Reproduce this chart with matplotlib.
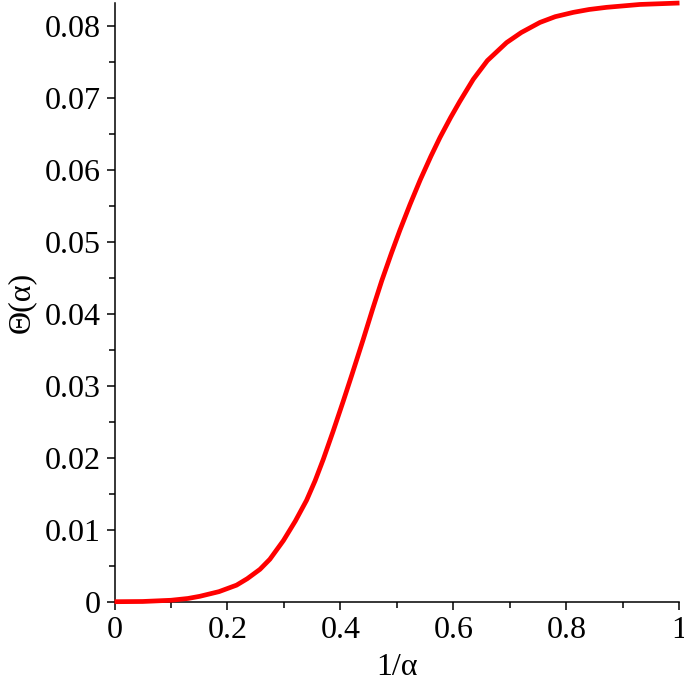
import matplotlib
matplotlib.use("Agg")
import matplotlib.pyplot as plt
from matplotlib.ticker import MultipleLocator

plt.rcParams['font.family'] = ['Liberation Serif', 'DejaVu Serif']

# values
inv_alpha = [0, 0.05, 0.1, 0.13, 0.151, 0.185, 0.216, 0.235, 0.2575, 0.275,
             0.299, 0.32, 0.340, 0.355, 0.3696, 0.387, 0.405, 0.42, 0.440,
             0.457, 0.473, 0.49, 0.505, 0.523, 0.541, 0.56, 0.576, 0.595,
             0.611, 0.635, 0.66, 0.694, 0.72, 0.753, 0.78, 0.812, 0.84,
             0.871, 0.930, 1.0]
theta = [0, 0.00003, 0.0002, 0.00045, 0.00075, 0.0014, 0.0023, 0.0032, 0.0045,
         0.0059, 0.0085, 0.0112, 0.0141, 0.0168, 0.0198, 0.0237, 0.0279,
         0.0315, 0.0364, 0.0407, 0.0446, 0.0484, 0.0516, 0.0552, 0.0586,
         0.0619, 0.0645, 0.0673, 0.0695, 0.0726, 0.0752, 0.0777, 0.0791,
         0.0805, 0.0813, 0.0819, 0.0823, 0.0826, 0.0830, 0.0832]

xticks = [0, 0.2, 0.4, 0.6, 0.8, 1]
xtick_labels = ['0', '0.2', '0.4', '0.6', '0.8', '1']
yticks = [0, 0.01, 0.02, 0.03, 0.04, 0.05, 0.06, 0.07, 0.08]
ytick_labels = ['0', '0.01', '0.02', '0.03', '0.04', '0.05', '0.06', '0.07', '0.08']

fig = plt.figure(figsize=(6.84, 6.85), dpi=100)
ax = fig.add_axes([0.1674, 0.1216, 0.826, 0.874])

ax.plot(inv_alpha, theta, color='#ff0000', lw=3.4, clip_on=False,
        solid_capstyle='butt', solid_joinstyle='round', zorder=3)

ax.set_xlim(0, 1)
ax.set_ylim(0, 0.0832)
ax.set_xticks(xticks)
ax.set_xticklabels(xtick_labels)
ax.set_yticks(yticks)
ax.set_yticklabels(ytick_labels)
ax.xaxis.set_minor_locator(MultipleLocator(0.1))
ax.yaxis.set_minor_locator(MultipleLocator(0.005))

for side in ['top', 'right']:
    ax.spines[side].set_visible(False)
for side in ['left', 'bottom']:
    ax.spines[side].set_linewidth(1.1)

ax.tick_params(which='major', direction='out', length=6, width=1.1,
               labelsize=23, pad=4)
ax.tick_params(which='minor', direction='out', length=4, width=1.1)

ax.set_xlabel('1/α', fontsize=23, labelpad=6)
ax.set_ylabel('Θ(α)', fontsize=23, labelpad=6)

fig.savefig('out.png', dpi=100)
